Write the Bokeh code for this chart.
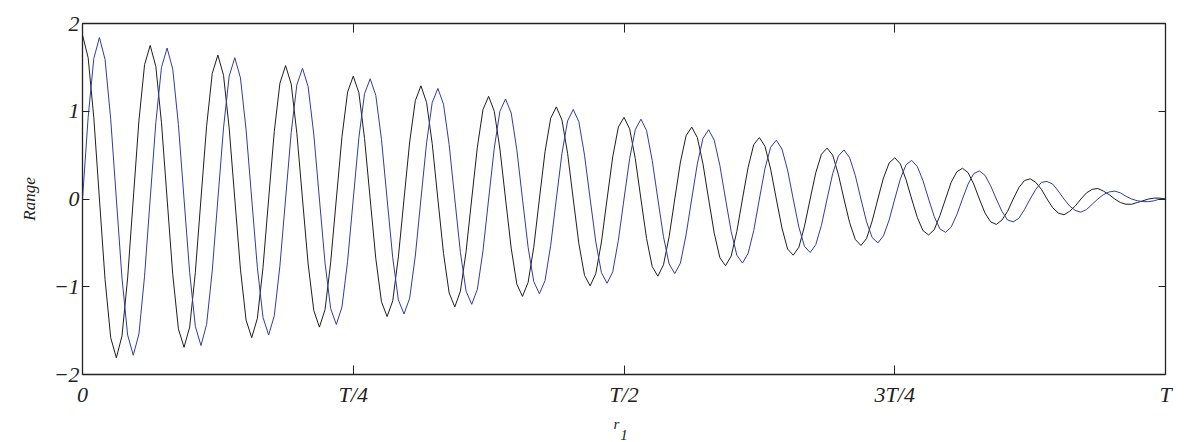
from bokeh.plotting import figure
from bokeh.models import Range1d, FixedTicker, LinearAxis
from bokeh.embed import file_html
from bokeh.resources import INLINE
import numpy as np

# values (one sample every T/192)
black = [
    1.87, 1.61, 0.93, 0.00, -0.92, -1.58, -1.81, -1.56, -0.90, 0.00, 0.89, 1.53,
    1.75, 1.51, 0.87, 0.00, -0.86, -1.48, -1.69, -1.46, -0.84, 0.00, 0.83, 1.43,
    1.64, 1.41, 0.81, 0.00, -0.80, -1.38, -1.58, -1.36, -0.78, 0.00, 0.77, 1.32,
    1.52, 1.31, 0.75, 0.00, -0.74, -1.27, -1.46, -1.26, -0.72, 0.00, 0.71, 1.22,
    1.40, 1.21, 0.69, 0.00, -0.68, -1.17, -1.34, -1.16, -0.66, 0.00, 0.65, 1.12,
    1.29, 1.10, 0.63, 0.00, -0.62, -1.07, -1.23, -1.05, -0.60, 0.00, 0.59, 1.02,
    1.17, 1.00, 0.57, 0.00, -0.56, -0.97, -1.11, -0.95, -0.55, 0.00, 0.54, 0.92,
    1.05, 0.90, 0.52, 0.00, -0.51, -0.87, -0.99, -0.85, -0.49, 0.00, 0.48, 0.82,
    0.93, 0.80, 0.46, 0.00, -0.45, -0.77, -0.88, -0.75, -0.43, 0.00, 0.42, 0.72,
    0.82, 0.70, 0.40, 0.00, -0.39, -0.67, -0.76, -0.65, -0.37, 0.00, 0.36, 0.62,
    0.70, 0.60, 0.34, 0.00, -0.33, -0.57, -0.64, -0.55, -0.31, 0.00, 0.30, 0.51,
    0.58, 0.50, 0.28, 0.00, -0.27, -0.46, -0.53, -0.45, -0.25, 0.00, 0.24, 0.41,
    0.47, 0.40, 0.22, 0.00, -0.21, -0.36, -0.41, -0.35, -0.19, 0.00, 0.19, 0.31,
    0.35, 0.30, 0.17, 0.00, -0.16, -0.26, -0.29, -0.24, -0.14, 0.00, 0.13, 0.21,
    0.23, 0.19, 0.11, 0.00, -0.10, -0.16, -0.18, -0.14, -0.08, 0.00, 0.07, 0.11,
    0.12, 0.09, 0.05, 0.00, -0.04, -0.06, -0.06, -0.04, -0.02, 0.00, 0.01, 0.01,
    0.00,
]

blue = [
    0.00, 0.93, 1.60, 1.84, 1.59, 0.91, 0.00, -0.90, -1.55, -1.78, -1.54, -0.88,
    0.00, 0.87, 1.50, 1.72, 1.48, 0.85, 0.00, -0.84, -1.45, -1.67, -1.43, -0.82,
    0.00, 0.81, 1.40, 1.61, 1.38, 0.79, 0.00, -0.78, -1.35, -1.55, -1.33, -0.76,
    0.00, 0.76, 1.30, 1.49, 1.28, 0.74, 0.00, -0.73, -1.25, -1.43, -1.23, -0.71,
    0.00, 0.70, 1.20, 1.37, 1.18, 0.68, 0.00, -0.67, -1.15, -1.31, -1.13, -0.65,
    0.00, 0.64, 1.10, 1.26, 1.08, 0.62, 0.00, -0.61, -1.05, -1.20, -1.03, -0.59,
    0.00, 0.58, 1.00, 1.14, 0.98, 0.56, 0.00, -0.55, -0.94, -1.08, -0.93, -0.53,
    0.00, 0.52, 0.89, 1.02, 0.88, 0.50, 0.00, -0.49, -0.84, -0.96, -0.83, -0.47,
    0.00, 0.46, 0.79, 0.91, 0.78, 0.44, 0.00, -0.43, -0.74, -0.85, -0.73, -0.41,
    0.00, 0.40, 0.69, 0.79, 0.67, 0.38, 0.00, -0.37, -0.64, -0.73, -0.62, -0.36,
    0.00, 0.35, 0.59, 0.67, 0.57, 0.33, 0.00, -0.32, -0.54, -0.61, -0.52, -0.30,
    0.00, 0.29, 0.49, 0.56, 0.47, 0.27, 0.00, -0.26, -0.44, -0.50, -0.42, -0.24,
    0.00, 0.23, 0.39, 0.44, 0.37, 0.21, 0.00, -0.20, -0.34, -0.38, -0.32, -0.18,
    0.00, 0.17, 0.29, 0.32, 0.27, 0.15, 0.00, -0.14, -0.24, -0.26, -0.22, -0.12,
    0.00, 0.11, 0.19, 0.20, 0.17, 0.09, 0.00, -0.08, -0.13, -0.15, -0.12, -0.06,
    0.00, 0.05, 0.08, 0.09, 0.07, 0.03, 0.00, -0.02, -0.03, -0.03, -0.02, 0.00,
    0.00,
]

x_ticks = [0, 0.25, 0.5, 0.75, 1]
x_tick_labels = ["0", "T/4", "T/2", "3T/4", "T"]
y_ticks = [-2, -1, 0, 1, 2]
y_tick_labels = ["\u22122", "\u22121", "0", "1", "2"]
y_title = "Range"
x_title_main = "r"
x_title_sub = "1"

t = np.linspace(0.0, 1.0, len(black))

FONT = "Liberation Serif"
INK = "#222222"

p = figure(width=1185, height=442, output_backend="svg", toolbar_location=None,
           x_range=Range1d(0, 1), y_range=Range1d(-2, 2),
           min_border_left=82, min_border_right=20,
           min_border_top=23, min_border_bottom=68)
p.grid.visible = False
p.background_fill_color = "white"
p.border_fill_color = "white"
p.outline_line_color = INK
p.outline_line_width = 1.3

p.line(t, black, line_color="#1e1e1e", line_width=1.0)
p.line(t, blue, line_color="#2f3ca0", line_width=1.0)


def style_axis(ax, ticks, labels, tick_len, show):
    ax.ticker = FixedTicker(ticks=ticks)
    ax.major_label_overrides = {k: v for k, v in zip(ticks, labels)}
    ax.minor_tick_line_color = None
    ax.major_tick_in = tick_len
    ax.major_tick_out = 0
    ax.major_tick_line_color = INK if tick_len else None
    ax.major_tick_line_width = 1
    ax.axis_line_color = None
    if show:
        ax.major_label_text_font = FONT
        ax.major_label_text_font_style = "italic"
        ax.major_label_text_font_size = "22px"
        ax.major_label_text_color = INK
    else:
        ax.major_label_text_font_size = "0px"
        ax.major_label_standoff = 0


def style_title(ax, text, standoff):
    ax.axis_label = text
    ax.axis_label_text_font = FONT
    ax.axis_label_text_font_style = "italic"
    ax.axis_label_text_color = INK
    ax.axis_label_standoff = standoff


# bottom axis with tick labels and the main part of the x title
bottom = p.xaxis[0]
style_axis(bottom, x_ticks, x_tick_labels, 9, True)
bottom.major_label_standoff = 7
style_title(bottom, x_title_main + "\u2003", 6)
bottom.axis_label_text_font_size = "15px"

# second bottom axis only carries the subscript of the x title
sub = LinearAxis()
style_axis(sub, x_ticks, ["" for _ in x_ticks], 0, False)
style_title(sub, x_title_sub, -5)
sub.axis_label_text_font_size = "15px"
p.add_layout(sub, "below")

left = p.yaxis[0]
style_axis(left, y_ticks, y_tick_labels, 7, True)
left.major_label_standoff = 3
style_title(left, y_title, 12)
left.axis_label_text_font_size = "17px"

top = LinearAxis()
style_axis(top, x_ticks, ["" for _ in x_ticks], 9, False)
p.add_layout(top, "above")
right = LinearAxis()
style_axis(right, y_ticks, ["" for _ in y_ticks], 7, False)
p.add_layout(right, "right")

open("out.html", "w").write(file_html(p, INLINE))
